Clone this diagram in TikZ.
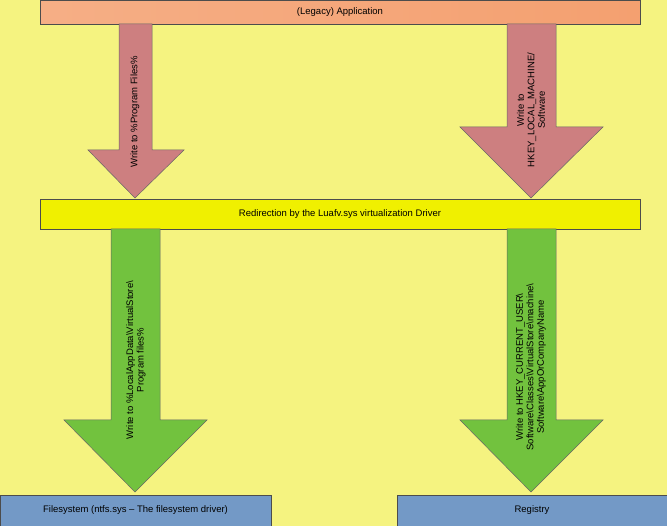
\documentclass[tikz,border=0pt]{standalone}
\usepackage{fontspec}
\setmainfont{Liberation Sans}
\definecolor{bgyel}{HTML}{F5F380}
\definecolor{appor}{HTML}{F4A070}
\definecolor{pinkar}{HTML}{CD7F80}
\definecolor{drvyel}{HTML}{F0F000}
\definecolor{greenar}{HTML}{72C23E}
\definecolor{bluebox}{HTML}{7399C6}
\newcommand{\bs}{\textbackslash}
\begin{document}
\begin{tikzpicture}[x=1pt,y=-1pt,
  bar/.style={draw=black!70, line width=0.6pt, minimum height=#1, inner sep=0pt, font=\fontsize{9.5}{11}\selectfont},
  fat/.style={draw=black!60, line width=0.5pt},
  lbl/.style={rotate=90, align=center, font=\fontsize{9.5}{10.5}\selectfont, inner sep=0pt}]
  \fill[bgyel] (0,0) rectangle (667,526);
  \useasboundingbox (0,0) rectangle (667,526);

  % bars
  \node[bar=24pt, minimum width=600pt, left color=appor!85!white, right color=appor] (app) at (340,12) {(Legacy) Application};
  \node[bar=30pt, minimum width=600pt, fill=drvyel] (drv) at (340,214) {Redirection by the Luafv.sys virtualization Driver};
  \node[bar=31pt, minimum width=271pt, fill=bluebox] (fs) at (135.5,510.5) {Filesystem (ntfs.sys -- The filesystem driver)};
  \node[bar=31pt, minimum width=270pt, fill=bluebox] (reg) at (532,510.5) {Registry};

  % pink arrows
  \draw[fat, fill=pinkar] (119,24) -- (152,24) -- (152,150) -- (184,150) -- (135,198) -- (88,150) -- (119,150) -- cycle;
  \draw[fat, fill=pinkar] (507,24) -- (556,24) -- (556,127) -- (603,127) -- (531,198) -- (460,127) -- (507,127) -- cycle;
  % green arrows
  \draw[fat, fill=greenar] (111,229) -- (160,229) -- (160,420) -- (207,420) -- (135,492) -- (64,420) -- (111,420) -- cycle;
  \draw[fat, fill=greenar] (507,229) -- (556,229) -- (556,420) -- (603,420) -- (531,492) -- (460,420) -- (507,420) -- cycle;

  % labels
  \node[lbl] (l1) at (135,112) {Write to \%Program Files\%};
  \node[lbl] (l2) at (531,110) {Write to\\HKEY\_LOCAL\_MACHINE/\\Software};
  \node[lbl] (l3) at (136,360) {Write to \%LocalAppData\bs VirtualStore\bs\\Program files\%};
  \node[lbl] (l4) at (531,367) {Write to HKEY\_CURRENT\_USER\bs\\Software\bs Classes\bs VirtualStore\bs machine\bs\\Software\bs AppOrCompanyName};
\end{tikzpicture}
\end{document}
